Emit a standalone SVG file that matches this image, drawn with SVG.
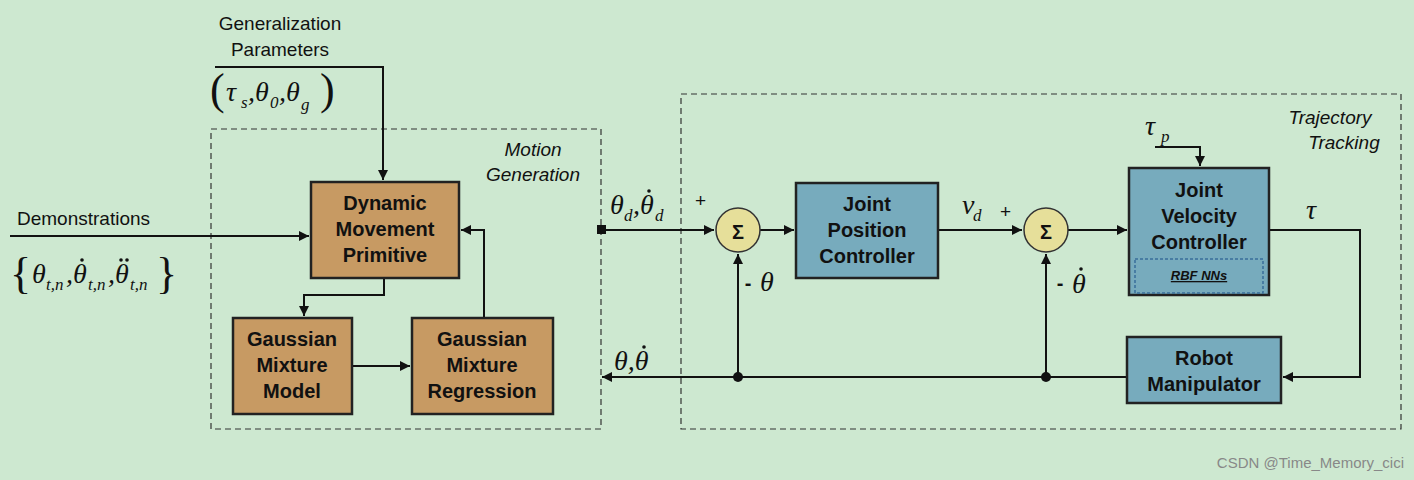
<svg xmlns="http://www.w3.org/2000/svg" width="1414" height="480" viewBox="0 0 1414 480">
<defs>
<marker id="ar" viewBox="0 0 10 10" refX="10" refY="5" markerWidth="10" markerHeight="10" markerUnits="userSpaceOnUse" orient="auto"><path d="M0,0 L10,5 L0,10 z" fill="#111"/></marker>
<style>
.bx{stroke:#222;stroke-width:2.5}
.br{fill:#c79a63}
.bl{fill:#77abbd}
.t{font-family:"Liberation Sans",Arial,sans-serif;font-weight:bold;font-size:20px;fill:#111;text-anchor:middle}
.n{font-family:"Liberation Sans",Arial,sans-serif;font-size:19px;fill:#111}
.i{font-family:"Liberation Sans",Arial,sans-serif;font-style:italic;font-size:19px;fill:#111;text-anchor:middle}
.m{font-family:"Liberation Serif","Times New Roman",serif;font-style:italic;font-size:28px;fill:#111}
.s{font-family:"Liberation Serif","Times New Roman",serif;font-style:italic;font-size:17px;fill:#111}
.br2{font-family:"Liberation Serif","Times New Roman",serif;font-size:44px;fill:#111}
.dash{fill:none;stroke:#333;stroke-width:1.2;stroke-dasharray:6,4}
.ln{fill:none;stroke:#111;stroke-width:2}
.sum{fill:#e6df9a;stroke:#333;stroke-width:1.5}
.d{fill:#111}
</style>
</defs>
<rect width="1414" height="480" fill="#cde8d0"/>
<rect class="dash" x="211" y="129" width="390" height="300"/>
<rect class="dash" x="681" y="94" width="720" height="335"/>
<text class="i" x="533" y="156">Motion</text>
<text class="i" x="533" y="181">Generation</text>
<text class="i" x="1330" y="124">Trajectory</text>
<text class="i" x="1344" y="149">Tracking</text>
<g id="connectors">
<path class="ln" d="M215,67 H383 V180" marker-end="url(#ar)"/>
<path class="ln" d="M10,236 H309" marker-end="url(#ar)"/>
<path class="ln" d="M384,278 V295 H304 V316" marker-end="url(#ar)"/>
<path class="ln" d="M352,366 H410" marker-end="url(#ar)"/>
<path class="ln" d="M484,318 V230 H461" marker-end="url(#ar)"/>
<path class="ln" d="M602,230 H714" marker-end="url(#ar)"/>
<rect x="597" y="225" width="9" height="9" fill="#111"/>
<path class="ln" d="M760,230 H794" marker-end="url(#ar)"/>
<path class="ln" d="M938,230 H1022" marker-end="url(#ar)"/>
<path class="ln" d="M1068,230 H1127" marker-end="url(#ar)"/>
<path class="ln" d="M1269,230 H1360 V377 H1283" marker-end="url(#ar)"/>
<path class="ln" d="M1155,147 H1200 V166" marker-end="url(#ar)"/>
<path class="ln" d="M1127,377 H602" marker-end="url(#ar)"/>
<path class="ln" d="M738,377 V254" marker-end="url(#ar)"/>
<path class="ln" d="M1046,377 V254" marker-end="url(#ar)"/>
<circle cx="738" cy="377" r="5" fill="#111"/>
<circle cx="1046" cy="377" r="5" fill="#111"/>
</g>
<text class="n" x="280" y="30" text-anchor="middle">Generalization</text>
<text class="n" x="280" y="56" text-anchor="middle">Parameters</text>
<text class="br2" x="210" y="104">(</text>
<text class="m" x="226" y="101">τ</text><text class="s" x="241" y="108">s</text><text class="m" x="248" y="101">,θ</text><text class="s" x="270" y="108" font-style="normal">0</text><text class="m" x="279" y="101">,θ</text><text class="s" x="301" y="110">g</text>
<text class="br2" x="320" y="104">)</text>
<text class="n" x="17" y="225">Demonstrations</text>
<text class="br2" x="10" y="288">{</text>
<text class="m" x="32" y="283">θ</text><text class="s" x="46" y="290">t,n</text>
<text class="m" x="66" y="283">,θ</text><circle class="d" cx="82" cy="260" r="1.8"/><text class="s" x="88" y="290">t,n</text>
<text class="m" x="108" y="283">,θ</text><circle class="d" cx="121" cy="260" r="1.8"/><circle class="d" cx="127" cy="260" r="1.8"/><text class="s" x="130" y="290">t,n</text>
<text class="br2" x="156" y="288">}</text>
<g id="dmp"><rect class="bx br" x="311" y="182" width="148" height="96"/>
<text class="t" x="385" y="210">Dynamic</text><text class="t" x="385" y="236">Movement</text><text class="t" x="385" y="262">Primitive</text></g>
<g id="gmm"><rect class="bx br" x="233" y="318" width="119" height="96"/>
<text class="t" x="292" y="346">Gaussian</text><text class="t" x="292" y="372">Mixture</text><text class="t" x="292" y="398">Model</text></g>
<g id="gmr"><rect class="bx br" x="412" y="318" width="141" height="96"/>
<text class="t" x="482" y="346">Gaussian</text><text class="t" x="482" y="372">Mixture</text><text class="t" x="482" y="398">Regression</text></g>
<text class="m" x="610" y="214">θ</text><text class="s" x="624" y="221">d</text><text class="m" x="633" y="214">,θ</text><circle class="d" cx="649" cy="191" r="1.8"/><text class="s" x="655" y="221">d</text>
<text class="n" x="695" y="207" font-size="20">+</text>
<g id="sum1"><circle class="sum" cx="738" cy="230" r="22"/><text class="t" x="738" y="239" font-size="26">Σ</text></g>
<text class="t" x="748" y="290" font-size="22">-</text><text class="m" x="760" y="291">θ</text>
<g id="jpc"><rect class="bx bl" x="796" y="183" width="142" height="95"/>
<text class="t" x="867" y="211">Joint</text><text class="t" x="867" y="237">Position</text><text class="t" x="867" y="263">Controller</text></g>
<text class="m" x="962" y="214">v</text><text class="s" x="973" y="221">d</text>
<text class="n" x="1000" y="218" font-size="20">+</text>
<g id="sum2"><circle class="sum" cx="1046" cy="230" r="22"/><text class="t" x="1046" y="239" font-size="26">Σ</text></g>
<text class="t" x="1060" y="290" font-size="22">-</text><text class="m" x="1072" y="293">θ</text><circle class="d" cx="1081" cy="269" r="1.8"/>
<text class="m" x="1145" y="135" font-size="34">τ</text><text class="s" x="1161" y="142">p</text>
<g id="jvc"><rect class="bx bl" x="1129" y="168" width="140" height="127"/>
<text class="t" x="1199" y="197">Joint</text><text class="t" x="1199" y="223">Velocity</text><text class="t" x="1199" y="249">Controller</text>
<rect x="1135" y="259" width="128" height="34" fill="none" stroke="#3a6f9a" stroke-width="1.5" stroke-dasharray="3,2"/>
<text x="1199" y="280" font-family="Liberation Sans,Arial,sans-serif" font-size="13" font-weight="bold" font-style="italic" text-anchor="middle" text-decoration="underline" fill="#111">RBF NNs</text></g>
<text class="m" x="1306" y="219">τ</text>
<g id="robot"><rect class="bx bl" x="1127" y="337" width="154" height="66"/>
<text class="t" x="1204" y="365">Robot</text><text class="t" x="1204" y="391">Manipulator</text></g>
<text class="m" x="614" y="370">θ,θ</text><circle class="d" cx="644" cy="347" r="1.8"/>
<text x="1404" y="468" font-family="Liberation Sans,Arial,sans-serif" font-size="15" fill="#888" text-anchor="end">CSDN @Time_Memory_cici</text>
</svg>
